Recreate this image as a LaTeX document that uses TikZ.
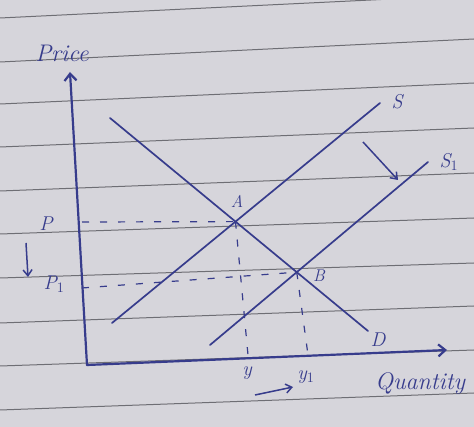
\documentclass[tikz,border=0pt]{standalone}
\usetikzlibrary{arrows.meta}
\definecolor{paper}{RGB}{214,213,219}
\definecolor{rule}{RGB}{110,110,116}
\definecolor{ink}{RGB}{55,60,140}
\tikzset{
  axisline/.style={ink, line width=2.2pt, line cap=round},
  curve/.style={ink, line width=1.7pt, line cap=round},
  guide/.style={ink, line width=1.2pt, dash pattern=on 7pt off 11pt},
  shiftarrow/.style={ink, line width=1.5pt, -{Straight Barb[length=6pt,width=9pt]}},
  lbl/.style={ink, font=\itshape\fontsize{20}{22}\selectfont, inner sep=1pt},
  smalllbl/.style={ink, font=\itshape\fontsize{17}{19}\selectfont, inner sep=1pt},
  biglbl/.style={ink, font=\itshape\fontsize{24}{26}\selectfont, inner sep=1pt},
  ruling/.style={rule, line width=1pt}
}
\begin{document}
\begin{tikzpicture}[x=1pt,y=-1pt]
\useasboundingbox (0,0) rectangle (474,427);
\fill[paper] (0,0) rectangle (474,427);
% ruled paper lines
\foreach \l/\r in {18/-5,62/39,104/83,147/128,191/173,234/218,278/263,323/306,366/350,410/393}
  \draw[ruling] (0,\l) -- (474,\r);
% axes
\coordinate (O) at (87,365);
\coordinate (ytop) at (70,72);
\coordinate (xend) at (447,350);
\draw[axisline, -{Straight Barb[length=7pt,width=12pt]}] (O) -- (ytop);
\draw[axisline, -{Straight Barb[length=7pt,width=12pt]}] (O) -- (xend);
% curve end points
\coordinate (d1) at (110,118);
\coordinate (d2) at (368,331);
\coordinate (s1) at (112,323);
\coordinate (s2) at (380,103);
\coordinate (t1) at (210,345);
\coordinate (t2) at (428,162);
\coordinate (A) at (intersection of d1--d2 and s1--s2);
\coordinate (B) at (intersection of d1--d2 and t1--t2);
\draw[curve] (d1) -- (d2);
\draw[curve] (s1) -- (s2);
\draw[curve] (t1) -- (t2);
% guide lines
\coordinate (pP) at (82,222);
\coordinate (pP1) at (82,288);
\coordinate (qy) at (248,355);
\coordinate (qy1) at (308,355);
\draw[guide] (pP) -- (A);
\draw[guide] (pP1) -- (B);
\draw[guide] (A) -- (qy);
\draw[guide] (B) -- (qy1);
% labels
\node[biglbl] (price) at (62,53) {Price};
\node[biglbl] (quantity) at (420,384) {Quantity};
\node[lbl] (lS) at (397,102) {S};
\node[lbl] (lS1) at (449,162) {S$_1$};
\node[lbl] (lD) at (378,340) {D};
\node[smalllbl] (lA) at (237,201) {A};
\node[smalllbl] (lB) at (319,276) {B};
\node[lbl] (lP) at (46,224) {P};
\node[lbl] (lP1) at (54,284) {P$_1$};
\node[lbl] (ly) at (247,373) {y};
\node[lbl] (ly1) at (306,377) {y$_1$};
% shift arrows
\coordinate (sa1) at (363,142);
\coordinate (sa2) at (398,180);
\draw[shiftarrow] (sa1) -- (sa2);
\coordinate (pa1) at (26,243);
\coordinate (pa2) at (28,277);
\draw[shiftarrow] (pa1) -- (pa2);
\coordinate (qa1) at (255,395);
\coordinate (qa2) at (293,387);
\draw[shiftarrow] (qa1) -- (qa2);
\end{tikzpicture}
\end{document}
